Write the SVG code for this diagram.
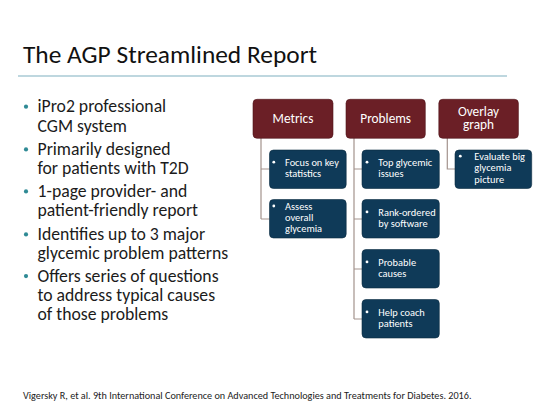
<svg xmlns="http://www.w3.org/2000/svg" width="540" height="405" viewBox="0 0 540 405">
<defs>
<style>
.t{font-family:Carlito,"Open Sans","Liberation Sans",sans-serif;}
.title{font-size:25.3px;fill:#111;}
.body{font-size:17.7px;fill:#1b1b1b;}
.foot{font-size:9.2px;fill:#222;}
.hdr{fill:#6b1f26;stroke:#4f141a;stroke-width:0.6;}
.chd{fill:#0f3a58;stroke:#0a2b42;stroke-width:0.6;}
.ht{font-size:13.3px;fill:#fff;text-anchor:middle;}
.ct{font-size:10.4px;fill:#fff;}
.dot{fill:#2f8a95;}
.wd{fill:#fff;}
.conn{fill:none;stroke:#a3938d;stroke-width:1.2;}
</style>
</defs>
<rect width="540" height="405" fill="#fff"/>
<text class="t title" x="23" y="63" textLength="294" lengthAdjust="spacingAndGlyphs">The AGP Streamlined Report</text>
<line x1="18" y1="76" x2="507" y2="76" stroke="#7fb0bf" stroke-width="1.2"/>

<g id="bullets">
<circle class="dot" cx="26" cy="106.7" r="2.1"/>
<circle class="dot" cx="26" cy="149.4" r="2.1"/>
<circle class="dot" cx="26" cy="191.4" r="2.1"/>
<circle class="dot" cx="26" cy="234.4" r="2.1"/>
<circle class="dot" cx="26" cy="276.1" r="2.1"/>
<text class="t body" x="37.5" y="112.3">iPro2 professional<tspan x="37.5" y="131.7">CGM system</tspan></text>
<text class="t body" x="37.5" y="155">Primarily designed<tspan x="37.5" y="174.3">for patients with T2D</tspan></text>
<text class="t body" x="37.5" y="197">1-page provider- and<tspan x="37.5" y="216.3">patient-friendly report</tspan></text>
<text class="t body" x="37.5" y="240">Identifies up to 3 major<tspan x="37.5" y="259.3">glycemic problem patterns</tspan></text>
<text class="t body" x="37.5" y="281.7">Offers series of questions<tspan x="37.5" y="300.9">to address typical causes</tspan><tspan x="37.5" y="320.2">of those problems</tspan></text>
</g>

<g id="connectors">
<path class="conn" d="M261,138 V219 M261,169 H269.5 M261,219 H269.5"/>
<path class="conn" d="M354,138 V319 M354,169 H362 M354,219 H362 M354,269 H362 M354,319 H362"/>
<path class="conn" d="M447.3,138 V169 H455"/>
</g>

<g id="metrics">
<rect class="hdr" x="253" y="99.3" width="80" height="39" rx="4"/>
<text class="t ht" x="293" y="123.4">Metrics</text>
</g>
<g id="problems">
<rect class="hdr" x="346" y="99.3" width="79.3" height="39" rx="4"/>
<text class="t ht" x="385.7" y="123.4">Problems</text>
</g>
<g id="overlay">
<rect class="hdr" x="438.8" y="99.3" width="79.6" height="39" rx="4"/>
<text class="t ht" x="478.5" y="116">Overlay<tspan x="478.5" y="129.4">graph</tspan></text>
</g>

<g id="focus">
<rect class="chd" x="269.5" y="150" width="76.7" height="38.5" rx="4"/>
<circle class="wd" cx="273.8" cy="162.2" r="1.4"/>
<text class="t ct" x="285" y="166">Focus on key<tspan x="285" y="177.3">statistics</tspan></text>
</g>
<g id="assess">
<rect class="chd" x="269.5" y="199.5" width="76.7" height="38.5" rx="4"/>
<circle class="wd" cx="273.8" cy="206" r="1.4"/>
<text class="t ct" x="285" y="209.8">Assess<tspan x="285" y="221.1">overall</tspan><tspan x="285" y="232.4">glycemia</tspan></text>
</g>
<g id="top">
<rect class="chd" x="362" y="150" width="77.3" height="38.5" rx="4"/>
<circle class="wd" cx="367" cy="162.2" r="1.4"/>
<text class="t ct" x="378.3" y="166">Top glycemic<tspan x="378.3" y="177.3">issues</tspan></text>
</g>
<g id="rank">
<rect class="chd" x="362" y="199.5" width="77.3" height="38.5" rx="4"/>
<circle class="wd" cx="367" cy="211.9" r="1.4"/>
<text class="t ct" x="378.3" y="215.7">Rank-ordered<tspan x="378.3" y="227">by software</tspan></text>
</g>
<g id="probable">
<rect class="chd" x="362" y="249.5" width="77.3" height="38.5" rx="4"/>
<circle class="wd" cx="367" cy="261.9" r="1.4"/>
<text class="t ct" x="378.3" y="265.7">Probable<tspan x="378.3" y="277">causes</tspan></text>
</g>
<g id="coach">
<rect class="chd" x="362" y="299.5" width="77.3" height="38.5" rx="4"/>
<circle class="wd" cx="367" cy="311.9" r="1.4"/>
<text class="t ct" x="378.3" y="315.7">Help coach<tspan x="378.3" y="327">patients</tspan></text>
</g>
<g id="evaluate">
<rect class="chd" x="455" y="150" width="76.7" height="38.5" rx="4"/>
<circle class="wd" cx="460.3" cy="156.2" r="1.4"/>
<text class="t ct" x="474.3" y="160">Evaluate big<tspan x="474.3" y="171.3">glycemia</tspan><tspan x="474.3" y="182.6">picture</tspan></text>
</g>

<text class="t foot" x="23" y="399" textLength="448.5" lengthAdjust="spacingAndGlyphs">Vigersky R, et al. 9th International Conference on Advanced Technologies and Treatments for Diabetes. 2016.</text>
</svg>
